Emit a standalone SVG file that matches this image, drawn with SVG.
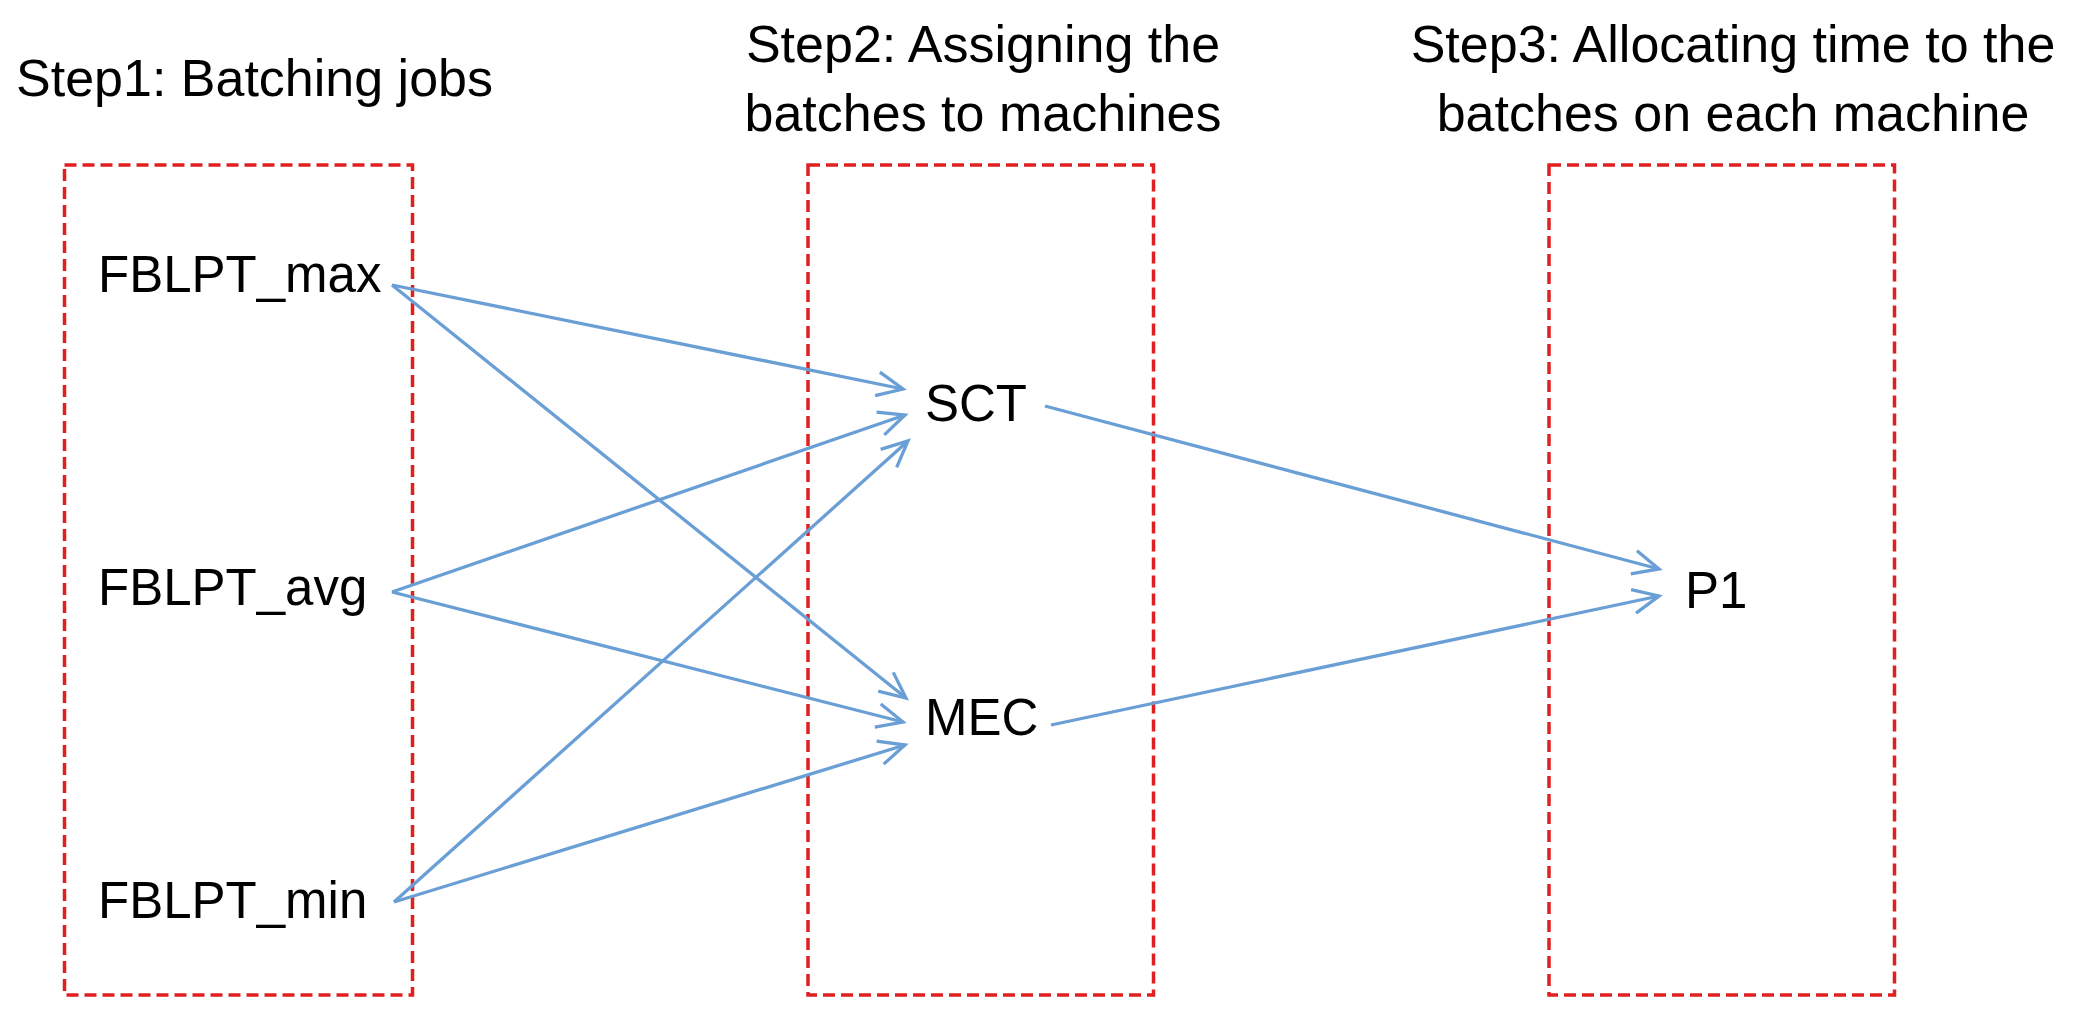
<svg xmlns="http://www.w3.org/2000/svg" width="2086" height="1023" viewBox="0 0 2086 1023">
<style>
text{font-family:"Liberation Sans",Arial,sans-serif;font-size:51px;fill:#000}
.t{font-size:52px}
.box{fill:none;stroke:#e02020;stroke-width:3.5;stroke-dasharray:12 6}
.c{fill:none;stroke:#6a9fd6;stroke-width:3.3;marker-end:url(#ah)}
</style>
<defs>
<marker id="ah" viewBox="0 0 20 20" refX="0" refY="0" markerWidth="20" markerHeight="20" markerUnits="userSpaceOnUse" orient="auto" overflow="visible">
<path d="M-26,-12 L0,0 L-26,12" fill="none" stroke="#6a9fd6" stroke-width="3.3"/>
</marker>
</defs>
<rect width="2086" height="1023" fill="#fff"/>
<g id="step1"><text class="t" x="16" y="96">Step1: Batching jobs</text><rect class="box" x="64.5" y="165" width="348" height="830"/></g>
<g id="step2"><text class="t" x="983" y="62" text-anchor="middle">Step2: Assigning the</text><text class="t" x="983" y="131" text-anchor="middle">batches to machines</text><rect class="box" x="808" y="165" width="345.5" height="830"/></g>
<g id="step3"><text class="t" x="1733" y="62" text-anchor="middle">Step3: Allocating time to the</text><text class="t" x="1733" y="131" text-anchor="middle">batches on each machine</text><rect class="box" x="1549" y="165" width="345.5" height="830"/></g>
<g id="n-max"><text x="98" y="292">FBLPT_max</text></g>
<g id="n-avg"><text x="98" y="605">FBLPT_avg</text></g>
<g id="n-min"><text x="98" y="918">FBLPT_min</text></g>
<g id="n-sct"><text x="925" y="421">SCT</text></g>
<g id="n-mec"><text x="925" y="735">MEC</text></g>
<g id="n-p1"><text x="1685" y="608">P1</text></g>
<g id="connectors">
<line class="c" x1="392" y1="285" x2="903" y2="389"/>
<line class="c" x1="392" y1="285" x2="906" y2="698"/>
<line class="c" x1="392" y1="592" x2="905" y2="415"/>
<line class="c" x1="392" y1="592" x2="903" y2="722"/>
<line class="c" x1="394" y1="902" x2="908" y2="441"/>
<line class="c" x1="394" y1="902" x2="905" y2="745"/>
<line class="c" x1="1045" y1="406" x2="1659" y2="569"/>
<line class="c" x1="1051" y1="725" x2="1659" y2="596"/>
</g>
</svg>
